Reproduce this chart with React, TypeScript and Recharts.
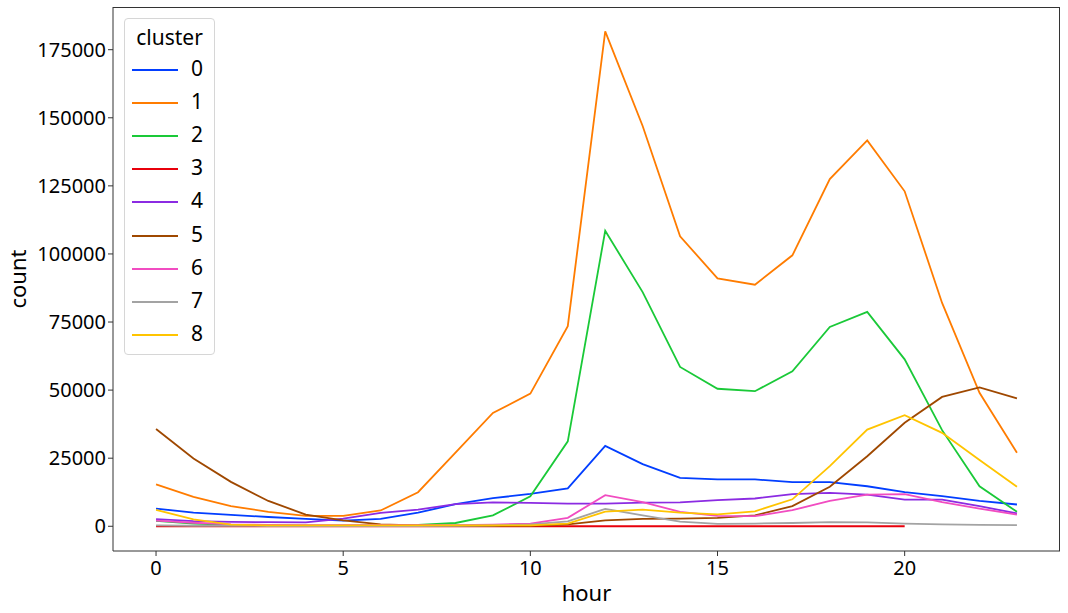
import { Line, LineChart, XAxis, YAxis } from "recharts";

const hours = [0, 1, 2, 3, 4, 5, 6, 7, 8, 9, 10, 11, 12, 13, 14, 15, 16, 17, 18, 19, 20, 21, 22, 23];
const clusters = ["0", "1", "2", "3", "4", "5", "6", "7", "8"];
const colors = ["#023eff", "#ff7c00", "#1ac938", "#e8000b", "#8b2be2", "#9f4800", "#f14cc1", "#a3a3a3", "#ffc400"];

const cluster0 = [6500, 5000, 4200, 3400, 2700, 2100, 2700, 5000, 8100, 10300, 11900, 13900, 29500, 22800, 17800, 17200, 17200, 16200, 16200, 14700, 12500, 11100, 9300, 8000];
const cluster1 = [15400, 10800, 7400, 5300, 3800, 3800, 5800, 12500, 27000, 41600, 48700, 73500, 181700, 147000, 106500, 91000, 88700, 99500, 127500, 141700, 123000, 82000, 49000, 27000];
const cluster2 = [2000, 1000, 500, 300, 200, 200, 300, 500, 1200, 4000, 11000, 31200, 108500, 86000, 58500, 50500, 49600, 56900, 73200, 78700, 61300, 35300, 14700, 5300];
const cluster3 = [0, 0, 0, 0, 0, 0, 0, 0, 0, 0, 0, 0, 0, 0, 0, 0, 0, 0, 0, 0, 0, null, null, null];
const cluster4 = [2600, 1900, 1600, 1500, 1400, 2800, 4900, 6100, 8100, 8800, 8600, 8300, 8300, 8700, 8800, 9600, 10200, 11800, 12300, 11600, 9800, 9800, 7400, 4700];
const cluster5 = [35700, 24900, 16300, 9300, 4300, 2200, 700, 300, 100, 100, 200, 700, 2200, 2700, 2800, 3100, 4000, 7400, 14500, 25700, 38000, 47500, 51000, 47000];
const cluster6 = [2100, 1300, 700, 500, 400, 400, 400, 400, 400, 600, 1000, 3100, 11400, 8900, 5300, 3800, 3700, 5900, 9300, 11600, 11800, 8900, 6500, 4300];
const cluster7 = [300, 200, 150, 100, 100, 100, 100, 100, 200, 300, 700, 1800, 6400, 4000, 1700, 900, 1000, 1200, 1500, 1400, 1000, 700, 500, 400];
const cluster8 = [6000, 2500, 600, 300, 300, 300, 300, 300, 300, 300, 300, 1000, 5400, 6100, 5000, 4400, 5500, 9900, 22100, 35500, 40800, 34300, 24300, 14500];

const series = [cluster0, cluster1, cluster2, cluster3, cluster4, cluster5, cluster6, cluster7, cluster8];

const xTicks = [0, 5, 10, 15, 20];
const yTicks = [0, 25000, 50000, 75000, 100000, 125000, 150000, 175000];

const data = hours.map((h, i) => {
    const row: Record<string, number | null> = { hour: h };
    clusters.forEach((c, k) => {
        row["c" + c] = series[k][i];
    });
    return row;
});

const font = "'Noto Sans', 'DejaVu Sans', sans-serif";
const tickStyle = { fontSize: 20, fill: "#000", fontFamily: font };

function ClusterLegend() {
    return (
        <div
            style={{
                position: "absolute",
                left: 124,
                top: 18,
                width: 89,
                height: 335,
                border: "1px solid #d6d6d6",
                borderRadius: 4,
                background: "rgba(255,255,255,0.8)",
                fontFamily: font,
                color: "#000",
            }}
        >
            <div style={{ position: "absolute", left: 0, width: 89, top: 4, textAlign: "center", fontSize: 21 }}>cluster</div>
            {clusters.map((c, k) => (
                <div key={c} style={{ position: "absolute", left: 0, top: 37 + k * 33.1, height: 28, width: 89 }}>
                    <div style={{ position: "absolute", left: 7, top: 13, width: 46, height: 2, background: colors[k] }} />
                    <div style={{ position: "absolute", left: 66, top: -2, fontSize: 21 }}>{c}</div>
                </div>
            ))}
        </div>
    );
}

export default function App() {
    return (
        <div style={{ position: "absolute", left: 0, top: 0, width: 1068, height: 613, background: "#fff" }}>
            <LineChart width={1068} height={613} data={data} margin={{ top: 7, right: 8, bottom: 0, left: 0 }}>
                <XAxis
                    dataKey="hour"
                    type="number"
                    domain={[-1.15, 24.15]}
                    ticks={xTicks}
                    allowDataOverflow
                    height={62}
                    stroke="#333"
                    tick={tickStyle}
                    tickSize={5}
                    tickMargin={5}
                    tickLine={{ stroke: "#333" }}
                    label={{ value: "hour", position: "insideBottom", offset: 12, style: { fontSize: 22, fill: "#000", fontFamily: font } }}
                />
                <YAxis
                    type="number"
                    domain={[-9080, 190680]}
                    ticks={yTicks}
                    allowDataOverflow
                    width={113}
                    stroke="#333"
                    tick={tickStyle}
                    tickSize={5}
                    tickLine={{ stroke: "#333" }}
                    label={{ value: "count", angle: -90, position: "insideLeft", offset: 18, style: { fontSize: 22, fill: "#000", fontFamily: font, textAnchor: "middle" } }}
                />
                {clusters.map((c, k) => (
                    <Line
                        key={c}
                        dataKey={"c" + c}
                        stroke={colors[k]}
                        strokeWidth={1.8}
                        dot={false}
                        isAnimationActive={false}
                        type="linear"
                    />
                ))}
            </LineChart>
            <div
                style={{
                    position: "absolute",
                    left: 113,
                    top: 7,
                    width: 947,
                    height: 544,
                    borderTop: "1px solid #333",
                    borderRight: "1px solid #333",
                    boxSizing: "border-box",
                    pointerEvents: "none",
                }}
            />
            <ClusterLegend />
        </div>
    );
}
